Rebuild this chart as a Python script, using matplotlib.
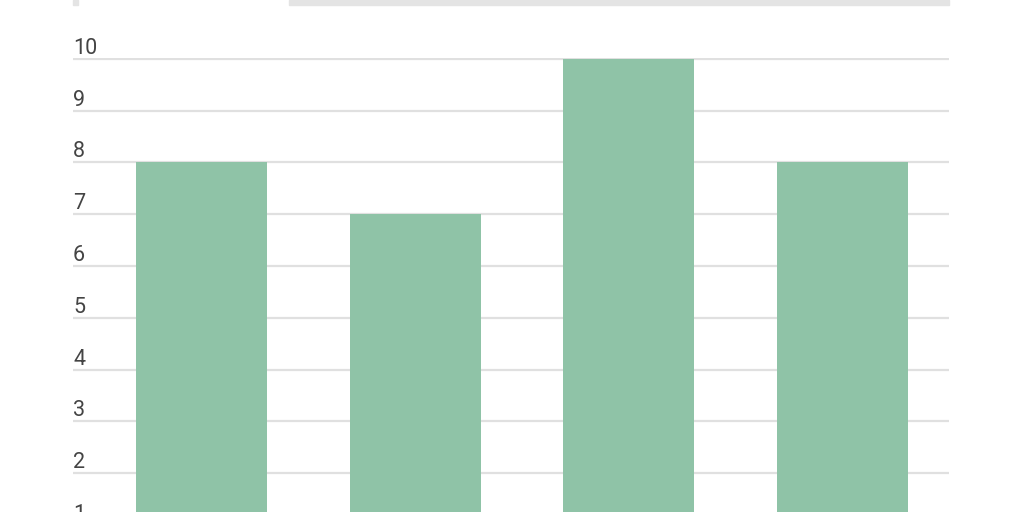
import matplotlib
matplotlib.use("Agg")
from matplotlib import pyplot as plt
from matplotlib.patches import Rectangle

categories = ["A", "B", "C", "D"]
values = [8, 7, 10, 8]
y_ticks = [1, 2, 3, 4, 5, 6, 7, 8, 9, 10]

BAR_COLOR = "#8fc3a7"
GRID_COLOR = "#e0e0e0"
TEXT_COLOR = "#444444"

plt.rcParams["font.family"] = ["Roboto", "DejaVu Sans"]

W, H = 1024, 512
fig = plt.figure(figsize=(W / 100, H / 100), dpi=100)

# plot area in pixels: x 73..949, value 0 at y=576.8, value 10 at y=57.8
left_px, right_px = 73, 949
y0_px, y10_px = 576.8, 57.8
ax = fig.add_axes([left_px / W, (H - y0_px) / H,
                   (right_px - left_px) / W, (y0_px - y10_px) / H])

x = list(range(len(categories)))
ax.bar(x, values, width=0.613, color=BAR_COLOR, zorder=2)

step = 213.67
ax.set_xlim((left_px - 201.5) / step, (right_px - 201.5) / step)
ax.set_ylim(0, 10.02)

ax.set_yticks(y_ticks)
ax.set_yticklabels([str(v) for v in y_ticks])
ax.set_xticks([])
ax.grid(axis="y", color=GRID_COLOR, linewidth=1.6, zorder=1)
ax.tick_params(axis="y", length=0, pad=0, labelsize=15.5, labelcolor=TEXT_COLOR)
for lbl in ax.get_yticklabels():
    lbl.set_horizontalalignment("left")
    lbl.set_verticalalignment("bottom")
for s in ax.spines.values():
    s.set_visible(False)

# grey strip at the very top of the image
fig.patches.append(Rectangle((73 / W, 1 - 5 / H), 4.5 / W, 5 / H,
                             transform=fig.transFigure, color="#e4e4e4"))
fig.patches.append(Rectangle((289 / W, 1 - 5 / H), (949 - 289) / W, 5 / H,
                             transform=fig.transFigure, color="#e4e4e4"))

fig.savefig("out.png", dpi=100)
